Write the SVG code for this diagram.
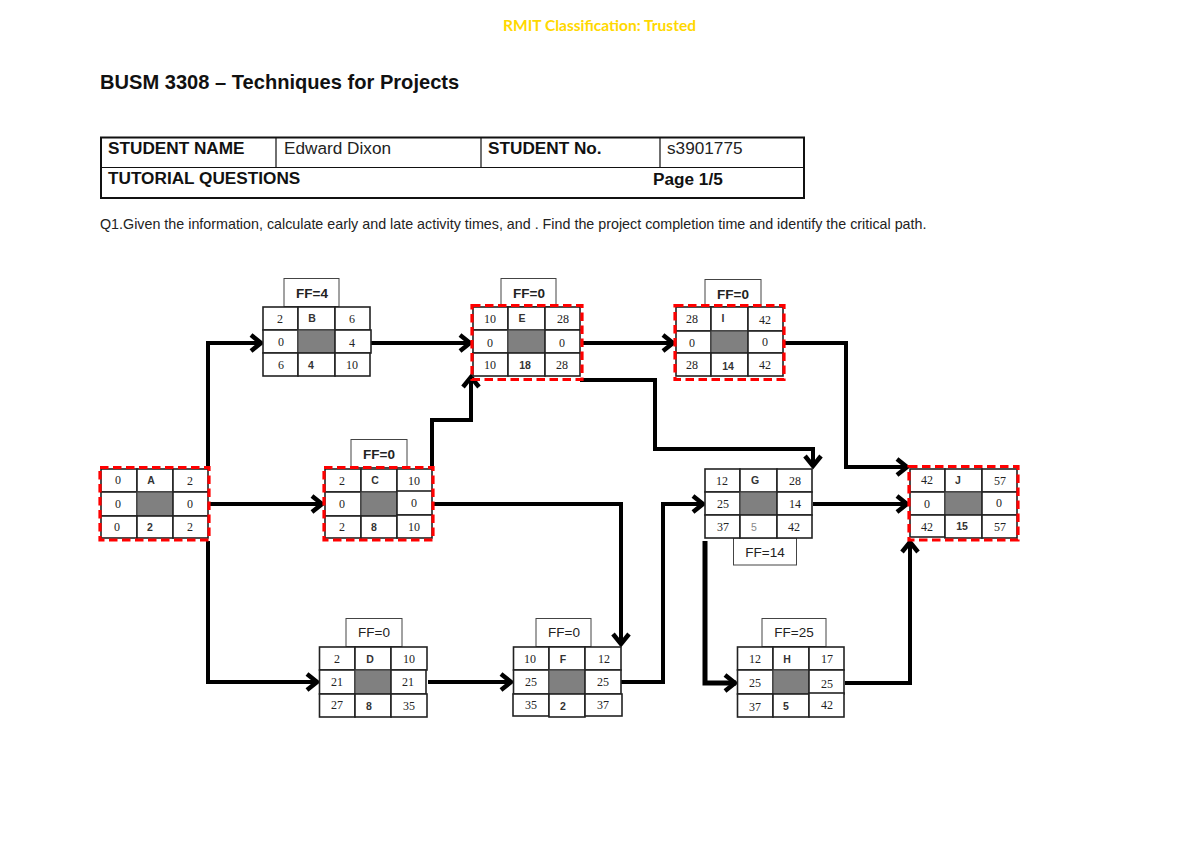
<svg xmlns="http://www.w3.org/2000/svg" width="1200" height="848" viewBox="0 0 1200 848">
<style>
.c{fill:#fff;stroke:#222;stroke-width:1.6}
.g{fill:#808080;stroke:#444;stroke-width:1.2}
.ff{fill:#fff;stroke:#444;stroke-width:1}
.crit{fill:none;stroke:#f00;stroke-width:3.2;stroke-dasharray:8.500 4.500}
.n{font:12px "Liberation Serif",serif;fill:#222;text-anchor:middle}
.l{font:bold 10.5px "Liberation Sans",sans-serif;fill:#333;text-anchor:middle}
.fft{font:13.5px "Liberation Sans",sans-serif;fill:#222;text-anchor:middle}
.fb{font-weight:bold}
.h{font:bold 17.200px "Liberation Sans",sans-serif;fill:#111}
.v{font:17.200px "Liberation Sans",sans-serif;fill:#222}
.w{fill:none;stroke:#000;stroke-width:4;stroke-linejoin:miter}
.ln{stroke:#111;fill:none}
</style>
<defs>
<marker id="ah" markerUnits="userSpaceOnUse" markerWidth="24" markerHeight="24" refX="17" refY="12" orient="auto" overflow="visible">
<path d="M6 4L16 12L6 20" fill="none" stroke="#000" stroke-width="4.500"/>
</marker>
</defs>
<rect width="1200" height="848" fill="#fff"/>
<g id="header">
<text x="503" y="31" font-family="Lato,sans-serif" font-weight="bold" font-size="15" fill="#ffd800" textLength="193" lengthAdjust="spacingAndGlyphs">RMIT Classification: Trusted</text>
<text x="100" y="89" font-family="Liberation Sans,sans-serif" font-weight="bold" font-size="20.100" fill="#111">BUSM 3308 – Techniques for Projects</text>
<text x="100" y="229" font-family="Liberation Sans,sans-serif" font-size="14.300" fill="#222">Q1.Given the information, calculate early and late activity times, and . Find the project completion time and identify the critical path.</text>
</g>
<g id="student-table">
<rect x="101" y="137.500" width="703" height="60.500" fill="#fff" stroke="#111" stroke-width="2"/>
<path class="ln" d="M101 167.500H804M276 137.500V167.500M481 137.500V167.500M660 137.500V167.500" stroke-width="1.200"/>
<text class="h" x="108" y="154">STUDENT NAME</text>
<text class="v" x="284" y="154">Edward Dixon</text>
<text class="h" x="488" y="154">STUDENT No.</text>
<text class="v" x="667" y="154">s3901775</text>
<text class="h" x="108" y="184">TUTORIAL QUESTIONS</text>
<text class="h" x="653" y="185">Page 1/5</text>
</g>
<g id="connectors">
<path class="w" d="M208 468V343H262" marker-end="url(#ah)"/>
<path class="w" d="M209 504H323" marker-end="url(#ah)"/>
<path class="w" d="M208 541V682H318" marker-end="url(#ah)"/>
<path class="w" d="M371 343H471" marker-end="url(#ah)"/>
<path class="w" d="M432 468V420H471V376" marker-end="url(#ah)"/>
<path class="w" d="M433 504H621V645" marker-end="url(#ah)"/>
<path class="w" d="M581 343H674" marker-end="url(#ah)"/>
<path class="w" d="M580 380H655V449H813V467" marker-end="url(#ah)"/>
<path class="w" d="M784 343H846V467H908" marker-end="url(#ah)"/>
<path class="w" d="M428 682H512" marker-end="url(#ah)"/>
<path class="w" d="M621 682H663V504H704" marker-end="url(#ah)"/>
<path class="w" d="M813 504H908" marker-end="url(#ah)"/>
<path class="w" d="M705 541V683H736" marker-end="url(#ah)" style="stroke-width:5"/>
<path class="w" d="M845 683H910V541" marker-end="url(#ah)"/>
</g>
<g id="node-A">
<rect class="c" x="101" y="469" width="36" height="23"/><rect class="c" x="137" y="469" width="36" height="23"/><rect class="c" x="173" y="469" width="35" height="23"/>
<rect class="c" x="101" y="492" width="36" height="24"/><rect class="g" x="137" y="492" width="36" height="24"/><rect class="c" x="173" y="492" width="35" height="24"/>
<rect class="c" x="101" y="516" width="36" height="22"/><rect class="c" x="137" y="516" width="36" height="22"/><rect class="c" x="173" y="516" width="35" height="22"/>
<rect class="crit" x="100" y="467.500" width="109" height="72.500"/>
<text class="n" x="118" y="484">0</text><text class="l" x="151" y="484">A</text><text class="n" x="190" y="485">2</text>
<text class="n" x="118" y="508">0</text><text class="n" x="190" y="508">0</text>
<text class="n" x="117" y="531">0</text><text class="l" x="150" y="531">2</text><text class="n" x="190" y="531">2</text>
</g>
<g id="node-B">
<rect class="ff" x="284" y="278.500" width="55" height="28"/><text class="fft fb" x="312" y="298">FF=4</text>
<rect class="c" x="263" y="307" width="35" height="23"/><rect class="c" x="298" y="307" width="37" height="23"/><rect class="c" x="335" y="307" width="35" height="23"/>
<rect class="c" x="263" y="330" width="35" height="23"/><rect class="g" x="298" y="330" width="37" height="23"/><rect class="c" x="335" y="330" width="36" height="23"/>
<rect class="c" x="263" y="353" width="35" height="23"/><rect class="c" x="298" y="353" width="37" height="23"/><rect class="c" x="335" y="353" width="35" height="23"/>
<text class="n" x="280" y="323">2</text><text class="l" x="312" y="322">B</text><text class="n" x="352" y="323">6</text>
<text class="n" x="281" y="346">0</text><text class="n" x="352" y="347">4</text>
<text class="n" x="281" y="369">6</text><text class="l" x="311" y="369">4</text><text class="n" x="352" y="369">10</text>
</g>
<g id="node-C">
<rect class="ff" x="351" y="439.500" width="56" height="28"/><text class="fft fb" x="379" y="459">FF=0</text>
<rect class="c" x="325" y="469" width="36" height="23"/><rect class="c" x="361" y="469" width="36" height="23"/><rect class="c" x="397" y="469" width="35" height="23"/>
<rect class="c" x="325" y="492" width="36" height="24"/><rect class="g" x="361" y="492" width="36" height="24"/><rect class="c" x="397" y="491" width="35" height="24"/>
<rect class="c" x="325" y="516" width="36" height="22"/><rect class="c" x="361" y="516" width="36" height="22"/><rect class="c" x="397" y="515" width="35" height="23"/>
<rect class="crit" x="324" y="467.500" width="109" height="72.500"/>
<text class="n" x="342" y="485">2</text><text class="l" x="375" y="484">C</text><text class="n" x="414" y="485">10</text>
<text class="n" x="342" y="508">0</text><text class="n" x="414" y="507">0</text>
<text class="n" x="342" y="531">2</text><text class="l" x="374" y="531">8</text><text class="n" x="414" y="531">10</text>
</g>
<g id="node-D">
<rect class="ff" x="346" y="618.500" width="56" height="28"/><text class="fft" x="374" y="637">FF=0</text>
<rect class="c" x="319.500" y="647" width="35.500" height="23"/><rect class="c" x="355" y="647" width="36" height="23"/><rect class="c" x="391" y="647" width="36" height="23"/>
<rect class="c" x="319.500" y="670" width="35.500" height="24"/><rect class="g" x="355" y="670" width="36" height="24"/><rect class="c" x="391" y="670" width="35" height="24"/>
<rect class="c" x="319.500" y="694" width="35.500" height="23"/><rect class="c" x="355" y="694" width="36" height="23"/><rect class="c" x="391" y="694" width="36" height="23"/>
<text class="n" x="337" y="663">2</text><text class="l" x="370" y="663">D</text><text class="n" x="409" y="663">10</text>
<text class="n" x="337" y="686">21</text><text class="n" x="408" y="686">21</text>
<text class="n" x="337" y="709">27</text><text class="l" x="369" y="710">8</text><text class="n" x="409" y="710">35</text>
</g>
<g id="node-E">
<rect class="ff" x="501" y="278.500" width="55" height="28"/><text class="fft fb" x="529" y="298">FF=0</text>
<rect class="c" x="473" y="307" width="35" height="23"/><rect class="c" x="508" y="307" width="37" height="23"/><rect class="c" x="545" y="307" width="35" height="23"/>
<rect class="c" x="473" y="330" width="35" height="23"/><rect class="g" x="508" y="330" width="37" height="23"/><rect class="c" x="545" y="330" width="35" height="23"/>
<rect class="c" x="473" y="353" width="35" height="23"/><rect class="c" x="508" y="353" width="37" height="23"/><rect class="c" x="545" y="353" width="35" height="23"/>
<rect class="crit" x="472" y="305.500" width="110" height="74"/>
<text class="n" x="490" y="323">10</text><text class="l" x="522" y="322">E</text><text class="n" x="563" y="323">28</text>
<text class="n" x="490" y="347">0</text><text class="n" x="562" y="347">0</text>
<text class="n" x="490" y="369">10</text><text class="l" x="525" y="369">18</text><text class="n" x="562" y="369">28</text>
</g>
<g id="node-F">
<rect class="ff" x="536" y="618.500" width="55" height="28"/><text class="fft" x="564" y="637">FF=0</text>
<rect class="c" x="513.500" y="647" width="35.500" height="23"/><rect class="c" x="549" y="647" width="36" height="23"/><rect class="c" x="585" y="647" width="36" height="23"/>
<rect class="c" x="513.500" y="670" width="35.500" height="24"/><rect class="g" x="549" y="670" width="36" height="24"/><rect class="c" x="585" y="670" width="36" height="24"/>
<rect class="c" x="513" y="694" width="36" height="22"/><rect class="c" x="549" y="694" width="36" height="23"/><rect class="c" x="585" y="694" width="37" height="22"/>
<text class="n" x="530" y="663">10</text><text class="l" x="563" y="663">F</text><text class="n" x="604" y="663">12</text>
<text class="n" x="531" y="686">25</text><text class="n" x="603" y="686">25</text>
<text class="n" x="531" y="709">35</text><text class="l" x="563" y="710">2</text><text class="n" x="603" y="709">37</text>
</g>
<g id="node-I">
<rect class="ff" x="705" y="279.500" width="56" height="27"/><text class="fft fb" x="733" y="299">FF=0</text>
<rect class="c" x="676" y="307" width="35" height="24"/><rect class="c" x="711" y="307" width="37" height="24"/><rect class="c" x="748" y="307" width="35" height="24"/>
<rect class="c" x="676" y="331" width="35" height="22"/><rect class="g" x="711" y="331" width="37" height="22"/><rect class="c" x="748" y="331" width="35" height="22"/>
<rect class="c" x="676" y="353" width="35" height="23"/><rect class="c" x="711" y="353" width="37" height="23"/><rect class="c" x="748" y="353" width="35" height="23"/>
<rect class="crit" x="675" y="305.500" width="109" height="74"/>
<text class="n" x="692" y="323">28</text><text class="l" x="723" y="322">I</text><text class="n" x="765" y="324">42</text>
<text class="n" x="692" y="347">0</text><text class="n" x="765" y="346">0</text>
<text class="n" x="692" y="369">28</text><text class="l" x="728" y="370">14</text><text class="n" x="765" y="369">42</text>
</g>
<g id="node-G">
<rect class="ff" x="733.500" y="538" width="63" height="27"/><text class="fft" x="765" y="557">FF=14</text>
<rect class="c" x="705" y="469" width="35" height="23"/><rect class="c" x="740" y="469" width="37" height="23"/><rect class="c" x="777" y="469" width="35" height="23"/>
<rect class="c" x="705" y="492" width="35" height="23"/><rect class="g" x="740" y="492" width="37" height="23"/><rect class="c" x="777" y="492" width="35" height="23"/>
<rect class="c" x="705" y="515" width="35" height="23"/><rect class="c" x="740" y="515" width="37" height="23"/><rect class="c" x="777" y="515" width="35" height="23"/>
<text class="n" x="722" y="485">12</text><text class="l" x="755" y="484">G</text><text class="n" x="795" y="485">28</text>
<text class="n" x="723" y="508">25</text><text class="n" x="795" y="508">14</text>
<text class="n" x="723" y="531">37</text><text class="l" x="754" y="531" style="fill:#888;font-weight:normal">5</text><text class="n" x="794" y="531">42</text>
</g>
<g id="node-H">
<rect class="ff" x="762" y="618.500" width="64" height="28"/><text class="fft" x="794" y="637">FF=25</text>
<rect class="c" x="737.500" y="647" width="35.500" height="23"/><rect class="c" x="773" y="647" width="36" height="23"/><rect class="c" x="809" y="647" width="35" height="23"/>
<rect class="c" x="737.500" y="670" width="35.500" height="24"/><rect class="g" x="773" y="670" width="36" height="24"/><rect class="c" x="809" y="670" width="35" height="24"/>
<rect class="c" x="737.500" y="694" width="35.500" height="23"/><rect class="c" x="773" y="694" width="36" height="23"/><rect class="c" x="809" y="693" width="35" height="24"/>
<text class="n" x="755" y="663">12</text><text class="l" x="787" y="663">H</text><text class="n" x="827" y="663">17</text>
<text class="n" x="755" y="687">25</text><text class="n" x="827" y="688">25</text>
<text class="n" x="755" y="711">37</text><text class="l" x="786" y="710">5</text><text class="n" x="827" y="709">42</text>
</g>
<g id="node-J">
<rect class="c" x="910" y="469" width="35" height="23"/><rect class="c" x="945" y="469" width="37" height="23"/><rect class="c" x="982" y="469" width="35" height="23"/>
<rect class="c" x="910" y="492" width="35" height="23"/><rect class="g" x="945" y="492" width="37" height="23"/><rect class="c" x="982" y="492" width="35" height="23"/>
<rect class="c" x="910" y="515" width="35" height="22"/><rect class="c" x="945" y="515" width="37" height="23"/><rect class="c" x="982" y="515" width="35" height="23"/>
<rect class="crit" x="909" y="466.500" width="109" height="73.500"/>
<text class="n" x="927" y="484">42</text><text class="l" x="958" y="484">J</text><text class="n" x="1000" y="485">57</text>
<text class="n" x="927" y="508">0</text><text class="n" x="999" y="507">0</text>
<text class="n" x="927" y="531">42</text><text class="l" x="962" y="530">15</text><text class="n" x="1000" y="531">57</text>
</g>
</svg>
